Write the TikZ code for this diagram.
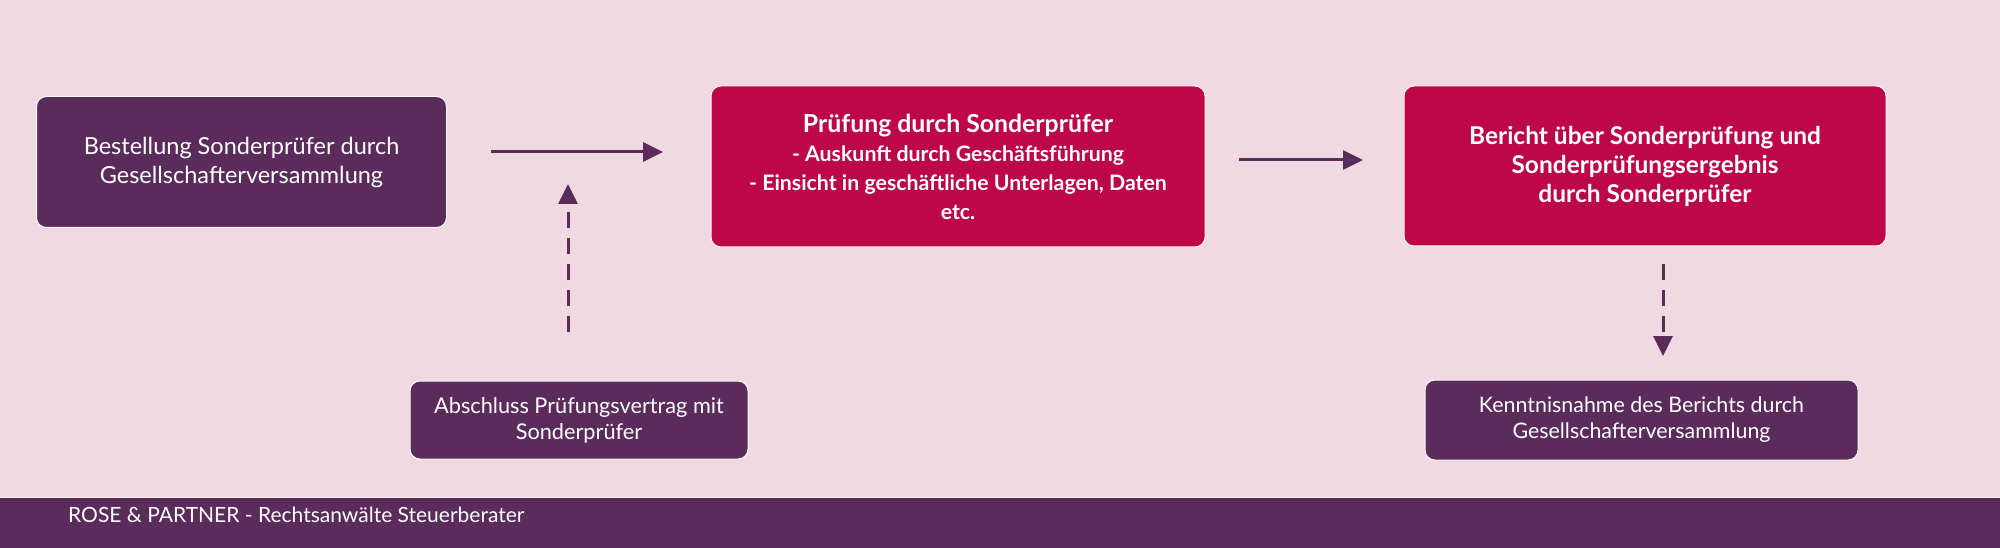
\documentclass[tikz,border=0pt]{standalone}
\usepackage{fontspec}
\setmainfont{Lato}
\usetikzlibrary{arrows.meta}
\definecolor{bgpink}{RGB}{240,217,224}
\definecolor{rppurple}{RGB}{90,43,91}
\definecolor{rpred}{RGB}{189,7,72}
\tikzset{
  basebox/.style={rectangle, rounded corners=10pt, draw=white!85!bgpink, line width=1pt,
    text=white, align=center, inner sep=0pt},
  purplebox/.style={basebox, fill=rppurple},
  redbox/.style={basebox, fill=rpred},
  flowarrow/.style={draw=rppurple, line width=3pt, -{Triangle[length=20pt,width=19pt]}},
  dasharrow/.style={flowarrow, dash pattern=on 16pt off 10pt}
}
\begin{document}
\begin{tikzpicture}[x=1pt,y=-1pt]
\fill[bgpink] (0,0) rectangle (2000,548);
\useasboundingbox (0,0) rectangle (2000,548);
% footer
\fill[rppurple] (0,498) rectangle (2000,548);
\draw[white!70!bgpink, line width=1pt] (0,497.5) -- (2000,497.5);
\node[anchor=west, text=white, font=\fontsize{21}{25}\selectfont, inner sep=0pt] (footer) at (68,515) {ROSE \& PARTNER - Rechtsanwälte Steuerberater};

% boxes
\node[purplebox, minimum width=410pt, minimum height=131pt,
  font=\fontsize{23.5}{29}\selectfont] (b1) at (241.5,162)
  {Bestellung Sonderprüfer durch\\Gesellschafterversammlung};
\node[redbox, minimum width=494pt, minimum height=161pt,
  font=\fontsize{21.3}{29}\selectfont\bfseries] (b2) at (958,166.5)
  {{\fontsize{24.8}{29}\selectfont Prüfung durch Sonderprüfer}\\
   - Auskunft durch Geschäftsführung\\
   - Einsicht in geschäftliche Unterlagen, Daten\\
   etc.};
\node[redbox, minimum width=482pt, minimum height=160pt,
  font=\fontsize{24.5}{29}\selectfont\bfseries] (b3) at (1645,166)
  {Bericht über Sonderprüfung und\\Sonderprüfungsergebnis\\durch Sonderprüfer};
\node[purplebox, minimum width=338pt, minimum height=78pt,
  font=\fontsize{21.7}{26}\selectfont] (b4) at (579,420)
  {Abschluss Prüfungsvertrag mit\\Sonderprüfer};
\node[purplebox, minimum width=433pt, minimum height=80pt,
  font=\fontsize{21.4}{26}\selectfont] (b5) at (1641.5,420)
  {Kenntnisnahme des Berichts durch\\Gesellschafterversammlung};

% connector ends
\coordinate (a1s) at (491,152);
\coordinate (a1e) at (663,152);
\coordinate (a2s) at (1239,160);
\coordinate (a2e) at (1363,160);
\coordinate (d1s) at (568,332);
\coordinate (d1e) at (568,184);
\coordinate (d2s) at (1663,264);
\coordinate (d2e) at (1663,356);

\draw[flowarrow] (a1s) -- (a1e);
\draw[flowarrow] (a2s) -- (a2e);
\draw[dasharrow] (d1s) -- (d1e);
\draw[dasharrow] (d2s) -- (d2e);
\end{tikzpicture}
\end{document}
